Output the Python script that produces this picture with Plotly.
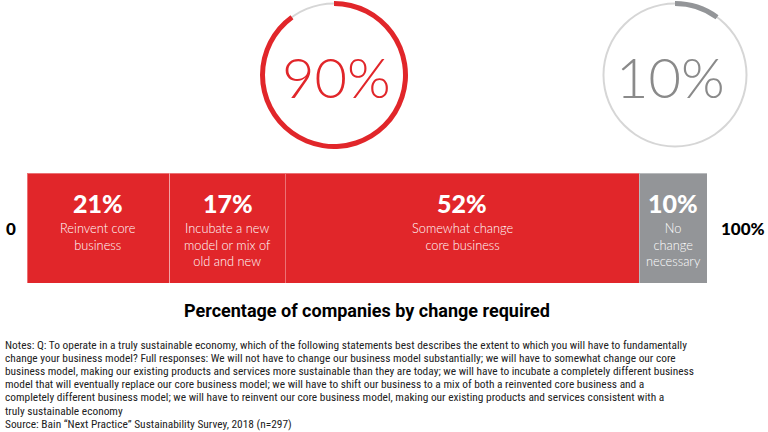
import plotly.graph_objects as go

W, H = 768, 432

# ---- data ----
segment_values = [21, 17, 52, 10]
segment_pct_labels = ["21%", "17%", "52%", "10%"]
segment_lines = [
    ["Reinvent core", "business"],
    ["Incubate a new", "model or mix of", "old and new"],
    ["Somewhat change", "core business"],
    ["No", "change", "necessary"],
]
segment_kind = ["change", "change", "change", "none"]

donut_change = [90, 10]
donut_change_label = "90%"
donut_none = [10, 90]
donut_none_label = "10%"

axis_start_label = "0"
axis_end_label = "100%"
title_text = "Percentage of companies by change required"
notes_lines = [
    "Notes: Q: To operate in a truly sustainable economy, which of the following statements best describes the extent to which you will have to fundamentally",
    "change your business model? Full responses: We will not have to change our business model substantially; we will have to somewhat change our core",
    "business model, making our existing products and services more sustainable than they are today; we will have to incubate a completely different business",
    "model that will eventually replace our core business model; we will have to shift our business to a mix of both a reinvented core business and a",
    "completely different business model; we will have to reinvent our core business model, making our existing products and services consistent with a",
    "truly sustainable economy",
    "Source: Bain \u201cNext Practice\u201d Sustainability Survey, 2018 (n=297)",
]

# ---- style ----
RED = "#e1262a"
GRAY = "#939598"
LIGHT = "#d6d6d6"
TEXTGRAY = "#8a8a8a"
SANS = "Lato, Roboto, sans-serif"
NARROW = "Liberation Sans Narrow, Roboto Condensed, Roboto, sans-serif"


def px_x(p):
    return p / W


def px_y(p):
    return 1 - p / H


fig = go.Figure()

# stacked bar
colors = {"change": RED, "none": GRAY}
for v, k in zip(segment_values, segment_kind):
    fig.add_trace(go.Bar(
        x=[v], y=[0], orientation="h", width=1,
        marker=dict(color=colors[k], line=dict(color="rgba(255,255,255,0.35)", width=1)),
        hoverinfo="skip", showlegend=False,
    ))

# bar labels
cum = 0
for v, pl, lines in zip(segment_values, segment_pct_labels, segment_lines):
    mid = cum + v / 2
    cum += v
    fig.add_annotation(x=mid, xref="x", y=px_y(203), yref="paper", text=pl,
                       showarrow=False, font=dict(family=SANS, size=25, color="white", weight=900),
                       xanchor="center", yanchor="middle")
    fig.add_annotation(x=mid, xref="x", y=px_y(218), yref="paper", text="<br>".join(lines),
                       showarrow=False, align="center",
                       font=dict(family=SANS, size=12.8, color="white", weight=300),
                       xanchor="center", yanchor="top")


def ring(cx, cy, r, vals, cols, thick, name):
    hole = (r - thick) / r
    fig.add_trace(go.Pie(
        values=vals, marker=dict(colors=cols, line=dict(width=0)),
        hole=hole, sort=False, direction="counterclockwise", rotation=0,
        textinfo="none", hoverinfo="skip", showlegend=False,
        domain=dict(x=[px_x(cx - r), px_x(cx + r)], y=[px_y(cy + r), px_y(cy - r)]),
        name=name,
    ))


# left donut (90%)
ring(334, 75, 72.5, [1], [LIGHT], 2, "bg1")
ring(334, 75, 74, donut_change, [RED, "rgba(0,0,0,0)"], 5, "d1")
# right donut (10%)
ring(675, 75, 72.5, [1], [LIGHT], 2, "bg2")
ring(675, 75, 74, donut_none, [GRAY, "rgba(0,0,0,0)"], 5, "d2")

fig.add_annotation(x=px_x(336), y=px_y(77), xref="paper", yref="paper", text=donut_change_label,
                   showarrow=False, xanchor="center", yanchor="middle",
                   font=dict(family=SANS, size=56, color=RED, weight=300))
fig.add_annotation(x=px_x(670), y=px_y(77), xref="paper", yref="paper", text=donut_none_label,
                   showarrow=False, xanchor="center", yanchor="middle",
                   font=dict(family=SANS, size=56, color=TEXTGRAY, weight=300))

# axis end labels
fig.add_annotation(x=0, xref="x", xshift=-16, y=px_y(228), yref="paper", text=axis_start_label,
                   showarrow=False, font=dict(family=SANS, size=17, color="black", weight=900),
                   xanchor="center", yanchor="middle")
fig.add_annotation(x=100, xref="x", xshift=36, y=px_y(228), yref="paper", text=axis_end_label,
                   showarrow=False, font=dict(family=SANS, size=17, color="black", weight=900),
                   xanchor="center", yanchor="middle")

# title
fig.add_annotation(x=px_x(367), y=px_y(310), xref="paper", yref="paper", text=title_text,
                   showarrow=False, font=dict(family="Roboto, sans-serif", size=18, color="black", weight="bold"),
                   xanchor="center", yanchor="middle")

# notes (one annotation per line for tight leading)
for i, ln in enumerate(notes_lines):
    fig.add_annotation(x=px_x(3), y=px_y(345 + 13.1 * i), xref="paper", yref="paper", text=ln,
                       showarrow=False, align="left",
                       font=dict(family=NARROW, size=11.4, color="#222222"),
                       xanchor="left", yanchor="middle")

fig.update_layout(
    width=W, height=H, margin=dict(l=0, r=0, t=0, b=0),
    paper_bgcolor="white", plot_bgcolor="white",
    barmode="stack", showlegend=False,
    xaxis=dict(domain=[px_x(27), px_x(707)], range=[0, 100], visible=False, fixedrange=True),
    yaxis=dict(domain=[px_y(283), px_y(173)], range=[-0.5, 0.5], visible=False, fixedrange=True),
)

fig.write_html("out.html", config={"displayModeBar": False},
               post_script="document.body.style.margin='0';document.body.style.overflow='hidden';")
